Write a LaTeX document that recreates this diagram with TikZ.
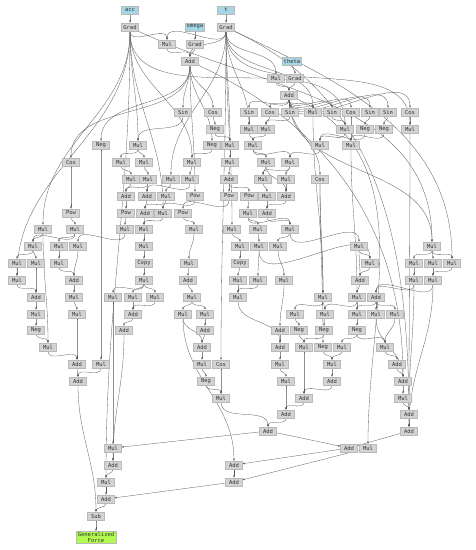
\documentclass[tikz,border=0pt]{standalone}
\usepackage{fontspec}
\setmonofont{DejaVu Sans Mono}
\usetikzlibrary{arrows.meta}

\definecolor{opgray}{RGB}{211,211,211}
\definecolor{inblue}{RGB}{166,214,228}
\definecolor{outgreen}{RGB}{178,250,80}
\definecolor{wirecol}{RGB}{85,85,85}

\pgfdeclarelayer{wires}
\pgfsetlayers{wires,main}

\begin{document}
\begin{tikzpicture}[x=1pt, y=-1pt, >=Stealth]
    \tikzstyle{op} = [fill=opgray, draw=gray!55, line width=0.2pt, minimum width=17pt, minimum height=8.5pt, inner xsep=1.2pt, inner ysep=0.5pt, font=\ttfamily\fontsize{5.5}{6}\selectfont, text=black!80]
    \tikzstyle{inp} = [op, fill=inblue]
    \tikzstyle{outp} = [op, fill=outgreen, minimum width=40pt, minimum height=12pt, align=center]
    \tikzstyle{wire} = [draw=wirecol, line width=0.3pt, -{Stealth[length=2.3pt,width=1.9pt]}]

    \useasboundingbox (0,0) rectangle (476,550);

    % inputs and first gradients
    \node[inp] (acc) at (130,10) {acc};
    \node[inp] (t) at (226,10) {t};
    \node[op] (gA) at (130,27) {Grad};
    \node[inp] (om) at (195,27) {omega};
    \node[op] (gT) at (226,27) {Grad};
    \node[op] (m2) at (167,44) {Mul};
    \node[op] (g2) at (195,44) {Grad};
    \node[op] (ad3) at (190,61) {Add};
    \node[inp] (th) at (292,61) {theta};
    \node[op] (m4) at (276,78) {Mul};
    \node[op] (g4) at (295,78) {Grad};
    \node[op] (ad5) at (289,95) {Add};

    % operation rows
    \foreach \nm/\xx/\txt in {s6a/183/Sin, c6a/213/Cos, s6b/249/Sin, c6b/270/Cos, s6c/290/Sin, m6/313/Mul, s6d/332/Sin, c6c/351/Cos, s6e/370/Sin, s6f/388/Sin, c6d/410/Cos}
        \node[op] (\nm) at (\xx,112) {\txt};
    \foreach \nm/\xx/\txt in {n7a/215/Neg, m7a/249/Mul, m7b/266/Mul, m7c/345/Mul, n7b/365/Neg, n7c/384/Neg, m7d/410/Mul}
        \node[op] (\nm) at (\xx,129) {\txt};
    \foreach \nm/\xx/\txt in {n8a/101/Neg, m8a/138/Mul, n8b/212/Neg, m8b/230/Mul, m8c/253/Mul, m8d/320/Mul, m8e/351/Mul}
        \node[op] (\nm) at (\xx,145) {\txt};
    \foreach \nm/\xx/\txt in {c9/71/Cos, m9a/121/Mul, m9b/144/Mul, m9c/192/Mul, m9d/230/Mul, m9e/266/Mul, m9f/290/Mul}
        \node[op] (\nm) at (\xx,162) {\txt};
    \foreach \nm/\xx/\txt in {m10a/131/Mul, m10b/148/Mul, m10c/171/Mul, m10d/190/Mul, ad10/229/Add, m10e/263/Mul, m10f/286/Mul, c10/320/Cos}
        \node[op] (\nm) at (\xx,179) {\txt};
    \foreach \nm/\xx/\txt in {ad11a/126/Add, ad11b/147/Add, m11a/166/Mul, p11a/195/Pow, p11b/229/Pow, p11c/249/Pow, m11b/267/Mul, ad11c/286/Add}
        \node[op] (\nm) at (\xx,196) {\txt};
    \foreach \nm/\xx/\txt in {p12a/71/Pow, p12b/126/Pow, ad12/145/Add, m12a/163/Mul, p12c/183/Pow, m12b/248/Mul, ad12b/267/Add}
        \node[op] (\nm) at (\xx,213) {\txt};
    \foreach \nm/\xx/\txt in {m13a/43/Mul, m13b/75/Mul, m13c/125/Mul, m13d/144/Mul, m13e/194/Mul, m13f/232/Mul, m13g/258/Mul, m13h/290/Mul}
        \node[op] (\nm) at (\xx,229) {\txt};
    \foreach \nm/\xx/\txt in {m14a/33/Mul, m14b/59/Mul, m14c/78/Mul, m14d/144/Mul, m14e/240/Mul, m14f/259/Mul, m14g/278/Mul, m14h/359/Mul, m14i/432/Mul}
        \node[op] (\nm) at (\xx,246) {\txt};
    \foreach \nm/\xx/\txt in {m15a/17/Mul, m15b/36/Mul, m15c/59/Mul, cp15a/144/Copy, m15d/189/Mul, cp15b/240/Copy, m15e/370/Mul, m15f/414/Mul, m15g/433/Mul, m15h/452/Mul}
        \node[op] (\nm) at (\xx,263) {\txt};
    \foreach \nm/\xx/\txt in {m16a/17/Mul, ad16a/74/Add, m16b/144/Mul, ad16b/188/Add, m16c/238/Mul, m16d/258/Mul, m16e/284/Mul, ad16c/360/Add, m16f/414/Mul, m16g/433/Mul}
        \node[op] (\nm) at (\xx,280) {\txt};
    \foreach \nm/\xx/\txt in {ad17a/36/Add, m17a/74/Mul, m17b/113/Mul, m17c/133/Mul, m17d/155/Mul, m17e/192/Mul, m17f/238/Mul, m17g/323/Mul, m17h/357/Mul, ad17b/376/Add}
        \node[op] (\nm) at (\xx,297) {\txt};
    \foreach \nm/\xx/\txt in {m18a/36/Mul, m18b/77/Mul, ad18a/133/Add, m18c/183/Mul, m18d/205/Mul, m18e/295/Mul, m18f/325/Mul, m18g/357/Mul, m18h/376/Mul, m18i/395/Mul}
        \node[op] (\nm) at (\xx,314) {\txt};
    \foreach \nm/\xx/\txt in {n19a/36/Neg, ad19a/124/Add, ad19b/205/Add, ad19c/280/Add, n19b/299/Neg, n19c/324/Neg, n19d/357/Neg}
        \node[op] (\nm) at (\xx,330) {\txt};
    \foreach \nm/\xx/\txt in {m20a/48/Mul, ad20a/202/Add, ad20b/280/Add, m20b/304/Mul, n20/323/Neg, m20c/342/Mul, m20d/385/Mul}
        \node[op] (\nm) at (\xx,347) {\txt};
    \foreach \nm/\xx/\txt in {ad21a/77/Add, m21a/101/Mul, m21b/202/Mul, c21/221/Cos, m21c/280/Mul, m21d/332/Mul, ad21b/397/Add}
        \node[op] (\nm) at (\xx,364) {\txt};
    \foreach \nm/\xx/\txt in {ad22a/78/Add, n22/206/Neg, m22/286/Mul, ad22b/332/Add, ad22c/403/Add}
        \node[op] (\nm) at (\xx,381) {\txt};
    \foreach \nm/\xx/\txt in {m23a/221/Mul, ad23a/304/Add, m23b/403/Mul}
        \node[op] (\nm) at (\xx,398) {\txt};
    \node[op] (ad24a) at (286,414) {Add};
    \node[op] (ad24b) at (409,414) {Add};
    \node[op] (ad25a) at (268,431) {Add};
    \node[op] (ad25b) at (409,431) {Add};
    \node[op] (m26a) at (113,448) {Mul};
    \node[op] (ad26) at (349,448) {Add};
    \node[op] (m26b) at (368,448) {Mul};
    \node[op] (ad27a) at (113,465) {Add};
    \node[op] (ad27b) at (234,465) {Add};
    \node[op] (m28) at (106,482) {Mul};
    \node[op] (ad28) at (234,482) {Add};
    \node[op] (ad29) at (106,499) {Add};
    \node[op] (sub) at (96,516) {Sub};
    \node[outp] (gf) at (96,537) {Generalized\\Force};

    \begin{pgfonlayer}{wires}
    % curved connectors
    \foreach \a/\b in {acc/gA, t/gT, om/g2, th/g4, gA/m2, gT/m2, m2/ad3, g2/ad3, gT/ad3, gT/m4, m4/ad5, g4/ad5,
        ad3/s6a, ad3/c6a, ad5/s6b, ad5/c6b, ad5/s6c, gT/m6, ad5/m6, ad5/s6d, ad5/c6c, ad5/s6e, ad5/s6f, ad5/c6d,
        c6a/n7a, s6b/m7a, gT/m7a, c6b/m7b, s6c/m7b, s6d/m7c, gA/m7c, s6e/n7b, s6f/n7c, c6d/m7d, gT/m7d,
        ad3/n8a, gA/m8a, s6a/m8a, ad3/n8b, n7a/m8b, gT/m8b, m7a/m8c, m7b/m8c, m7c/m8d, n7b/m8d, n7c/m8e, c6c/m8e,
        ad3/c9, m8a/m9a, m8a/m9b, gA/m9c, n8b/m9c, m8b/m9d, m8c/m9e, m8d/m9f, m8c/m9f,
        m9a/m10a, m9b/m10b, gT/m10c, m9c/m10d, m9d/ad10, m9e/m10e, m9f/m10e, m9f/m10f, ad5/c10,
        m10a/ad11a, m10b/ad11a, m10b/ad11b, m10c/m11a, m10d/ad11b, ad3/p11a, ad10/p11b, ad10/p11c, m10e/m11b, m10f/ad11c, m9e/ad11c,
        c9/p12a, ad11a/p12b, ad11b/ad12, m11a/ad12, p11a/m12a, gA/m12a, p11b/p12c, p11c/m12b, m11b/ad12b, ad11c/ad12b,
        p12a/m13b, gA/m13a, p12b/m13c, ad12/m13d, m12a/m13d, p12c/m13e, gT/m13f, m12b/m13g, ad12b/m13h, m12b/m13h,
        m13a/m14a, m13b/m14a, m13b/m14b, m13c/m14c, m13d/m14d, m13f/m14e, m13g/m14f, m13h/m14g, m13h/m14h, ad5/m14i,
        m14a/m15a, m14a/m15b, m14b/m15c, m14d/cp15a, m13e/m15d, m14e/cp15b, m14f/m15e, m14h/m15e, m14i/m15f, m14i/m15g, m14i/m15h,
        m15a/m16a, gA/m16a, m14c/ad16a, m15c/ad16a, cp15a/m16b, m15d/ad16b, cp15b/m16c, m14f/m16d, m14g/m16e, m15e/ad16c, m14h/ad16c, m15f/m16f, m15g/m16g, m15h/m16g,
        m16a/ad17a, m15b/ad17a, ad16a/m17a, m16b/m17b, m16b/m17c, m16b/m17d, ad16b/m17e, m16c/m17f, m16d/m17f, c10/m17g, m6/m17g, ad16c/m17h, m8e/m17h, m16f/ad17b, m16g/ad17b,
        ad17a/m18a, m17a/m18b, m17c/ad18a, m17d/ad18a, m17e/m18c, m17e/m18d, m17g/m18e, m17g/m18f, m17h/m18f, m17h/m18g, ad17b/m18g, ad17b/m18h, ad17b/m18i,
        m18a/n19a, ad18a/ad19a, m18d/ad19b, m16e/ad19c, m18e/n19b, m18f/n19c, m18g/n19d,
        n19a/m20a, m13a/m20a, ad19b/ad20a, m18c/ad20a, ad19c/ad20b, m17f/ad20b, n19b/m20b, n19c/m20b, c10/n20, n19d/m20c, n19d/m20d, m18i/m20d,
        m20a/ad21a, m18b/ad21a, n8a/m21a, ad20a/m21b, gT/c21, ad20b/m21c, n20/m21d, m20c/m21d, m20d/ad21b,
        ad21a/ad22a, m21a/ad22a, m21b/n22, m21c/m22, m21d/ad22b, ad21b/ad22c, m18h/ad22c,
        n22/m23a, c21/m23a, ad22b/ad23a, m20b/ad23a, ad22c/m23b,
        m22/ad24a, ad23a/ad24a, m23b/ad24b, m16f/ad24b, m7d/ad24b,
        ad24a/ad25a, m23a/ad25a, ad24b/ad25b, m16g/ad25b,
        m17b/m26a, ad19a/ad27a, m26a/ad27a, m18c/ad27b,
        ad27a/m28, gA/m28, ad22a/sub, ad29/sub, sub/gf}
        \draw[wire] (\a.south) to[out=-90, in=90] (\b.north);

    % long connectors swinging out to the right
    \foreach \a/\b in {gA/m14i, gT/m15h, gT/ad25b, ad3/ad22c, ad5/m26b}
        \draw[wire] (\a.south east) to[out=-25, in=90] (\b.north);

    % nearly flat connectors at the bottom
    \foreach \a/\b in {ad25a/m26a, ad25a/ad26, ad25b/ad26, ad26/ad27b, m26b/ad28, ad27b/ad28, ad28/ad29, m28/ad29}
        \draw[wire] (\a) -- (\b);
    \end{pgfonlayer}
\end{tikzpicture}
\end{document}
